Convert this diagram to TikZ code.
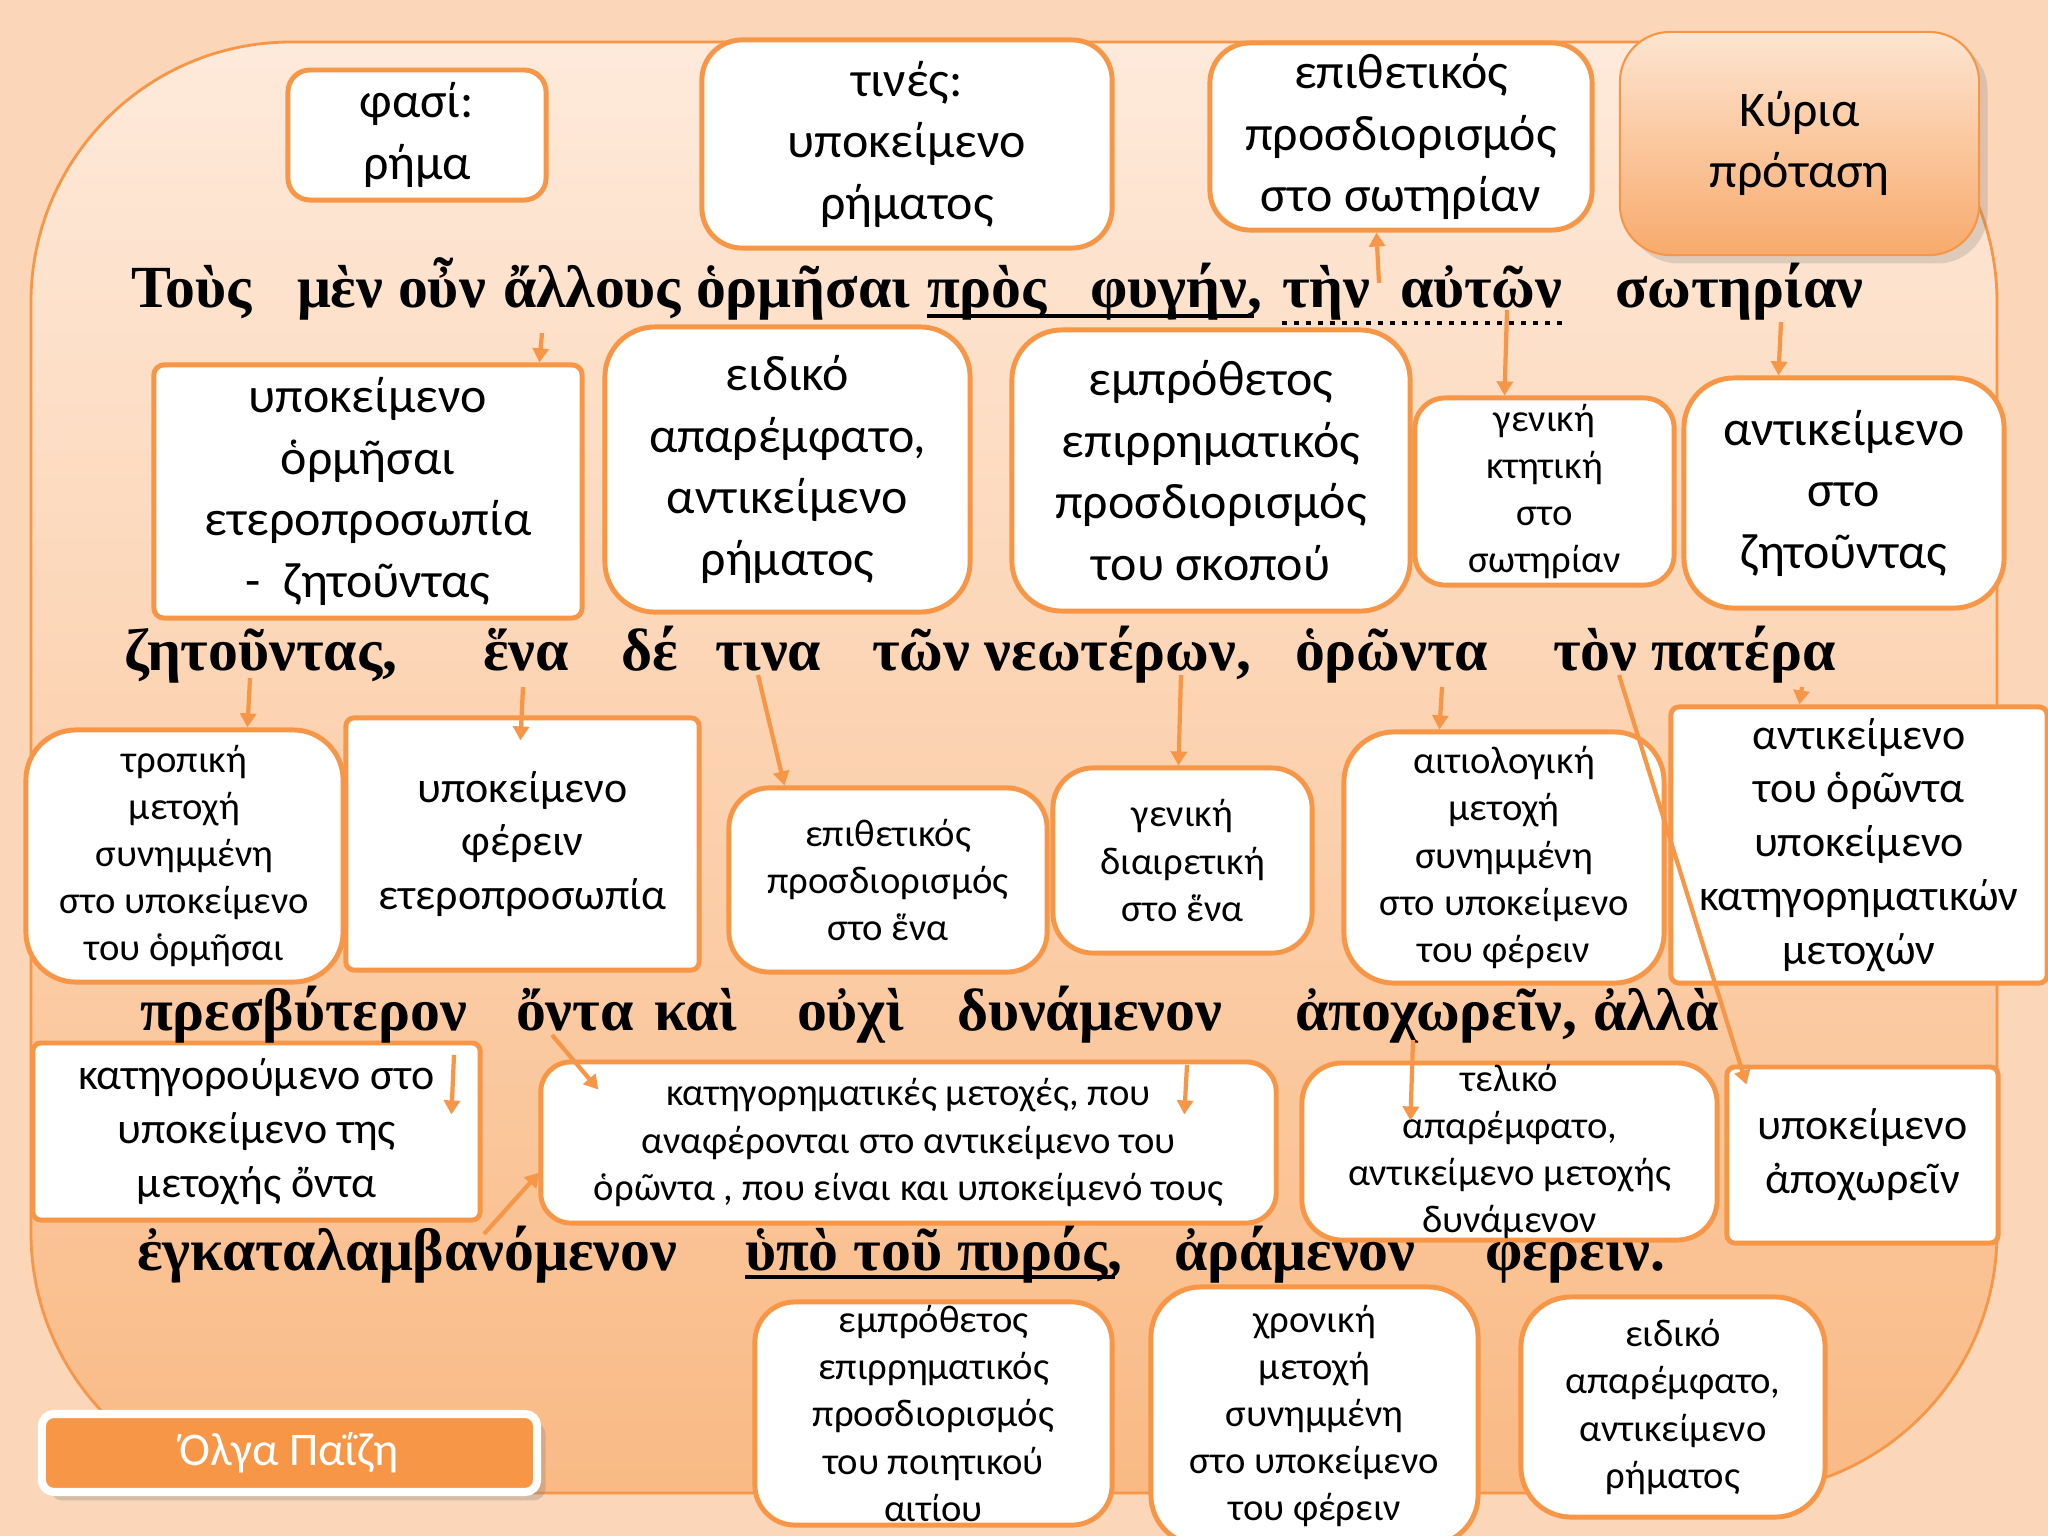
\documentclass[tikz,border=0pt]{standalone}
\usepackage{fontspec}
\setmainfont{Carlito}
\newfontfamily\sentfont{Liberation Serif}
\usetikzlibrary{arrows.meta,shadows}

\definecolor{accorange}{HTML}{F79646}
\definecolor{pagebg}{HTML}{FBD6B8}
\definecolor{paneltop}{HTML}{FEEADB}
\definecolor{panelbot}{HTML}{F9BA85}
\definecolor{kyriatop}{HTML}{FDE5D1}
\definecolor{kyriabot}{HTML}{F8AA6C}

\tikzset{
  gbox/.style={draw=accorange, line width=1.4pt, fill=white, align=center, inner sep=0pt, text=black},
  bigtxt/.style={font=\fontsize{14.2}{17.5}\selectfont},
  midtxt/.style={font=\fontsize{12.5}{15.3}\selectfont},
  smalltxt/.style={font=\fontsize{11}{13.4}\selectfont},
  word/.style={anchor=base west, inner sep=0pt, outer sep=0pt, font=\sentfont\bfseries\fontsize{17}{20}\selectfont},
  arr/.style={draw=accorange, line width=1.2pt, -{Triangle[length=4pt,width=4.5pt]}},
}

\begin{document}
\begin{tikzpicture}[x=0.01cm,y=-0.01cm]
\useasboundingbox (0,0) rectangle (2048,1536);
\fill[pagebg] (0,0) rectangle (2048,1536);
\path[draw=accorange, line width=0.8pt, top color=paneltop, bottom color=panelbot, rounded corners=2.6cm] (31,42) rectangle (1997,1493);

% boxes
\node[gbox, bigtxt, rounded corners=0.22cm, minimum width=2.58cm, minimum height=1.30cm] (fasi) at (417,135) {φασί:\\ρήμα};
\node[gbox, bigtxt, rounded corners=0.4cm, minimum width=4.10cm, minimum height=2.08cm] (tines) at (907,144) {τινές:\\υποκείμενο\\ρήματος};
\node[gbox, bigtxt, rounded corners=0.4cm, minimum width=3.82cm, minimum height=1.87cm] (epitha) at (1401,136.5) {επιθετικός\\προσδιορισμός\\στο σωτηρίαν};
\node[draw=accorange, line width=0.6pt, top color=kyriatop, bottom color=kyriabot, rounded corners=0.5cm, minimum width=3.59cm, minimum height=2.23cm, bigtxt, align=center, drop shadow={opacity=0.25}] (kyria) at (1799.5,143.5) {Κύρια\\πρόταση};
\node[gbox, bigtxt, rounded corners=0.1cm, minimum width=4.28cm, minimum height=2.53cm] (ypoorm) at (368,491.5) {υποκείμενο\\ὁρμῆσαι\\ετεροπροσωπία\\-\ \ ζητοῦντας};
\node[gbox, bigtxt, rounded corners=0.5cm, minimum width=3.65cm, minimum height=2.85cm] (eidika) at (787.5,469.5) {ειδικό\\απαρέμφατο,\\αντικείμενο\\ρήματος};
\node[gbox, bigtxt, rounded corners=0.5cm, minimum width=3.98cm, minimum height=2.81cm] (empra) at (1211,470.5) {εμπρόθετος\\επιρρηματικός\\προσδιορισμός\\του σκοπού};
\node[gbox, smalltxt, rounded corners=0.3cm, minimum width=2.59cm, minimum height=1.87cm] (genkt) at (1544.5,491.5) {γενική\\κτητική\\στο\\σωτηρίαν};
\node[gbox, bigtxt, rounded corners=0.5cm, minimum width=3.20cm, minimum height=2.30cm] (antz) at (1844,493) {αντικείμενο\\στο\\ζητοῦντας};
\node[gbox, smalltxt, rounded corners=0.5cm, minimum width=3.17cm, minimum height=2.52cm] (tropiki) at (184.5,856) {τροπική\\μετοχή\\συνημμένη\\στο υποκείμενο\\του ὁρμῆσαι};
\node[gbox, midtxt, rounded corners=0.08cm, minimum width=3.53cm, minimum height=2.52cm] (ypofer) at (522.5,844) {υποκείμενο\\φέρειν\\ετεροπροσωπία};
\node[gbox, smalltxt, rounded corners=0.4cm, minimum width=3.18cm, minimum height=1.84cm] (epithb) at (888,880) {επιθετικός\\προσδιορισμός\\στο ἕνα};
\node[gbox, smalltxt, rounded corners=0.4cm, minimum width=2.59cm, minimum height=1.85cm] (gendi) at (1182.5,860.5) {γενική\\διαιρετική\\στο ἕνα};
\node[gbox, smalltxt, rounded corners=0.5cm, minimum width=3.20cm, minimum height=2.51cm] (aitiol) at (1504,857.5) {αιτιολογική\\μετοχή\\συνημμένη\\στο υποκείμενο\\του φέρειν};
\node[gbox, midtxt, rounded corners=0.08cm, minimum width=3.76cm, minimum height=2.76cm] (antor) at (1859,845) {αντικείμενο\\του ὁρῶντα\\υποκείμενο\\κατηγορηματικών\\μετοχών};
\node[gbox, midtxt, rounded corners=0.08cm, minimum width=4.47cm, minimum height=1.77cm] (katig) at (256.5,1131.5) {κατηγορούμενο στο\\υποκείμενο της\\μετοχής ὄντα};
\node[gbox, smalltxt, rounded corners=0.3cm, minimum width=7.35cm, minimum height=1.61cm] (katmet) at (908.5,1142.5) {κατηγορηματικές μετοχές, που\\αναφέρονται στο αντικείμενο του\\ὁρῶντα , που είναι και υποκείμενό τους};
\node[gbox, smalltxt, rounded corners=0.4cm, minimum width=4.15cm, minimum height=1.77cm] (teliko) at (1509.5,1151.5) {τελικό\\απαρέμφατο,\\αντικείμενο μετοχής\\δυνάμενον};
\node[gbox, midtxt, rounded corners=0.08cm, minimum width=2.71cm, minimum height=1.76cm] (ypoapox) at (1862.5,1155) {υποκείμενο\\ἀποχωρεῖν};
\node[gbox, smalltxt, rounded corners=0.4cm, minimum width=3.57cm, minimum height=2.23cm] (emprb) at (933.5,1413.5) {εμπρόθετος\\επιρρηματικός\\προσδιορισμός\\του ποιητικού\\αιτίου};
\node[gbox, smalltxt, rounded corners=0.5cm, minimum width=3.27cm, minimum height=2.58cm] (chron) at (1314.5,1416) {χρονική\\μετοχή\\συνημμένη\\στο υποκείμενο\\του φέρειν};
\node[gbox, smalltxt, rounded corners=0.5cm, minimum width=3.04cm, minimum height=2.20cm] (eidikb) at (1673,1407) {ειδικό\\απαρέμφατο,\\αντικείμενο\\ρήματος};
\node[draw=white, line width=2.3pt, fill=accorange, rounded corners=0.12cm, minimum width=4.95cm, minimum height=0.78cm, text=white, font=\fontsize{13.3}{16}\selectfont, drop shadow={opacity=0.3}] (olga) at (289.5,1453) {Όλγα Παΐζη};

% sentence
\node[word] (tous) at (131,307) {Τοὺς};
\node[word] (men) at (297,307) {μὲν οὖν};
\node[word] (allous) at (503,307) {ἄλλους};
\node[word] (ormisai) at (696,307) {ὁρμῆσαι};
\node[word] (pros) at (927,307) {πρὸς};
\node[word] (fygin) at (1090,307) {φυγήν,};
\node[word] (tin) at (1282,307) {τὴν};
\node[word] (afton) at (1400,307) {αὐτῶν};
\node[word] (sotirian) at (1615,307) {σωτηρίαν};
\draw[line width=1.2pt] ([shift={(0,9)}]pros.base west) -- ([shift={(-8,9)}]fygin.base east);
\draw[line width=1.4pt, dotted] ([shift={(0,16)}]tin.base west) -- ([shift={(3,16)}]afton.base east);

\node[word] (zitountas) at (124,670) {ζητοῦντας,};
\node[word] (ena) at (483,670) {ἕνα};
\node[word] (de) at (621,670) {δέ};
\node[word] (tina) at (715,670) {τινα};
\node[word] (neoteron) at (872,670) {τῶν νεωτέρων,};
\node[word] (oronta) at (1295,670) {ὁρῶντα};
\node[word] (ton) at (1553,670) {τὸν};
\node[word] (patera) at (1651,670) {πατέρα};

\node[word] (presv) at (140,1030) {πρεσβύτερον};
\node[word] (onta) at (516,1030) {ὄντα};
\node[word] (kai) at (654,1030) {καὶ};
\node[word] (ouxi) at (797,1030) {οὐχὶ};
\node[word] (dynamenon) at (957,1030) {δυνάμενον};
\node[word] (apoxorein) at (1295,1030) {ἀποχωρεῖν,};
\node[word] (alla) at (1593,1030) {ἀλλὰ};

\node[word] (egkat) at (137,1270) {ἐγκαταλαμβανόμενον};
\node[word] (ypo) at (745,1270) {ὑπὸ τοῦ πυρός,};
\node[word] (aramenon) at (1174,1270) {ἀράμενον};
\node[word] (ferein) at (1485,1270) {φερειν.};
\draw[line width=1.2pt] ([shift={(0,7)}]ypo.base west) -- ([shift={(-8,7)}]ypo.base east);

% arrows
\draw[arr] ([shift={(39,26)}]allous.base west) -- ([shift={(388,0)}]ypoorm.north west);
\draw[arr] ([shift={(97,-24)}]tin.base west) -- ([shift={(169,0)}]epitha.south west);
\draw[arr] ([shift={(107,3)}]afton.base west) -- ([shift={(92,0)}]genkt.north west);
\draw[arr] ([shift={(166,15)}]sotirian.base west) -- ([shift={(97,0)}]antz.north west);
\draw[arr] ([shift={(126,8)}]zitountas.base west) -- ([shift={(224,0)}]tropiki.north west);
\draw[arr] ([shift={(40,17)}]ena.base west) -- ([shift={(177,25)}]ypofer.north west);
\draw[arr] ([shift={(43,5)}]tina.base west) -- ([shift={(58,0)}]epithb.north west);
\draw[arr] ([shift={(309,5)}]neoteron.base west) -- ([shift={(128,0)}]gendi.north west);
\draw[arr] ([shift={(147,17)}]oronta.base west) -- ([shift={(98,0)}]aitiol.north west);
\draw[arr] ([shift={(66,5)}]ton.base west) -- ([shift={(22,20)}]ypoapox.north west);
\draw[arr] ([shift={(151,17)}]patera.base west) -- ([shift={(131,0)}]antor.north west);
\draw[arr] ([shift={(314,25)}]presv.base west) -- ([shift={(421,74)}]katig.north west);
\draw[arr] ([shift={(36,5)}]onta.base west) -- ([shift={(60,30)}]katmet.north west);
\draw[arr] ([shift={(230,35)}]dynamenon.base west) -- ([shift={(646,55)}]katmet.north west);
\draw[arr] ([shift={(118,10)}]apoxorein.base west) -- ([shift={(111,60)}]teliko.north west);
\draw[arr] ([shift={(347,-36)}]egkat.base west) -- ([shift={(1,30)}]katmet.west);
\end{tikzpicture}
\end{document}
